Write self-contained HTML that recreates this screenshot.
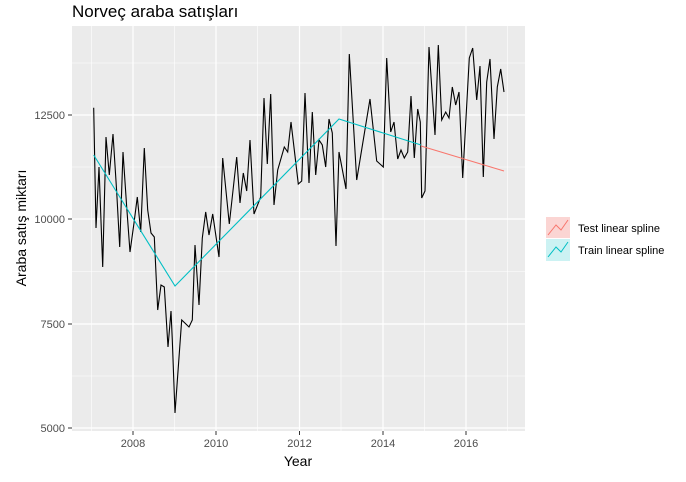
<!DOCTYPE html>
<html><head><meta charset="utf-8"><style>body{margin:0;background:#fff}</style></head><body>
<svg width="686" height="477" xmlns="http://www.w3.org/2000/svg" font-family="Liberation Sans, sans-serif">
<rect width="686" height="477" fill="#fff"/>
<rect x="72" y="26" width="453" height="405" fill="#ebebeb"/>
<g stroke="#fff" stroke-width="0.6">
<line x1="72" x2="525" y1="376" y2="376"/><line x1="72" x2="525" y1="271.5" y2="271.5"/><line x1="72" x2="525" y1="167" y2="167"/><line x1="72" x2="525" y1="63" y2="63"/>
<line y1="26" y2="431" x1="91.5" x2="91.5"/><line y1="26" y2="431" x1="174.5" x2="174.5"/><line y1="26" y2="431" x1="257.5" x2="257.5"/><line y1="26" y2="431" x1="341" x2="341"/><line y1="26" y2="431" x1="424.5" x2="424.5"/><line y1="26" y2="431" x1="507.5" x2="507.5"/>
</g>
<g stroke="#fff" stroke-width="1.2">
<line x1="72" x2="525" y1="428" y2="428"/><line x1="72" x2="525" y1="324" y2="324"/><line x1="72" x2="525" y1="219" y2="219"/><line x1="72" x2="525" y1="115" y2="115"/>
<line y1="26" y2="431" x1="133" x2="133"/><line y1="26" y2="431" x1="216" x2="216"/><line y1="26" y2="431" x1="299.5" x2="299.5"/><line y1="26" y2="431" x1="383" x2="383"/><line y1="26" y2="431" x1="466" x2="466"/>
</g>
<polyline fill="none" stroke="#000" stroke-width="1.1" points="93.7,107.7 96,228 99,167 100.7,213 102.7,267 106,137 109.3,175 113,134 116.7,192 119.7,247 123,152 126.7,207 130,252 134,223 137.3,197 140.7,232 144.3,148 147.7,210 151,233 154.3,237 157.7,310 161,285 164.3,287 168,347 171,311 172.3,340 175,413 181.7,320 189,327 192.3,320 195,245 199,305 202.3,238 205.7,212 209,235 212.7,214 219,257 222.7,158 229.3,224 236.7,157 240,203 243.3,173 246.7,191 250,140 254,214 260.7,197 264,98 267.3,164 270.7,94 274,205 277.7,170 284.3,147 287.7,152 291,122 298.3,184 301.7,181 305,93 309,183 312.3,112 315.7,175 319,140 322.3,145 325.7,167 329,119 332.3,133 336,246 339,152 346,189 349.3,54 356.7,180 370,99 376.7,161 383.3,167 386.7,58 390.7,132 394,122 397.7,159 401,150 404.3,158 407.7,152 411,96 414.3,158 417.7,109 420.3,122 421.7,198 425,191 429,47 435,135 438.3,45 441.7,120 445.7,112 449,118 452.3,87 455.7,105 459,92 462.7,178 469.3,58 472.7,48 476.7,100 480,66 483.3,177 486.7,82 490,59 494,139 497.3,87 500.7,69 504,92"/>
<polyline fill="none" stroke="#00bfc4" stroke-width="1.1" points="93.7,155 175,286 339,119 421,145"/>
<polyline fill="none" stroke="#f8766d" stroke-width="1.1" points="421,146 504,171"/>
<g stroke="#333" stroke-width="1">
<line x1="68" x2="72" y1="428" y2="428"/><line x1="68" x2="72" y1="324" y2="324"/><line x1="68" x2="72" y1="219" y2="219"/><line x1="68" x2="72" y1="115" y2="115"/>
<line y1="431" y2="435" x1="133" x2="133"/><line y1="431" y2="435" x1="216" x2="216"/><line y1="431" y2="435" x1="299.5" x2="299.5"/><line y1="431" y2="435" x1="383" x2="383"/><line y1="431" y2="435" x1="466" x2="466"/>
</g>
<g fill="#4d4d4d" font-size="11" text-anchor="end">
<text x="65" y="432">5000</text><text x="65" y="328">7500</text><text x="65" y="223">10000</text><text x="65" y="119">12500</text>
</g>
<g fill="#4d4d4d" font-size="11" text-anchor="middle">
<text x="133" y="447">2008</text><text x="216" y="447">2010</text><text x="299.5" y="447">2012</text><text x="383" y="447">2014</text><text x="466" y="447">2016</text>
</g>
<text x="298" y="466" font-size="14" text-anchor="middle">Year</text>
<text transform="translate(26,228) rotate(-90)" font-size="14" text-anchor="middle">Araba satış miktarı</text>
<text x="72" y="17" font-size="17">Norveç araba satışları</text>
<rect x="546" y="217" width="24" height="21" fill="#fbd5d3"/>
<polyline fill="none" stroke="#f8766d" stroke-width="1" points="548,235 556,225 561,230 568,220"/>
<rect x="546" y="239" width="24" height="22" fill="#ccf2f3"/>
<polyline fill="none" stroke="#00bfc4" stroke-width="1" points="548,257 556,247 561,252 568,242"/>
<text x="578" y="232" font-size="11">Test linear spline</text>
<text x="578" y="254" font-size="11">Train linear spline</text>
</svg>
</body></html>
